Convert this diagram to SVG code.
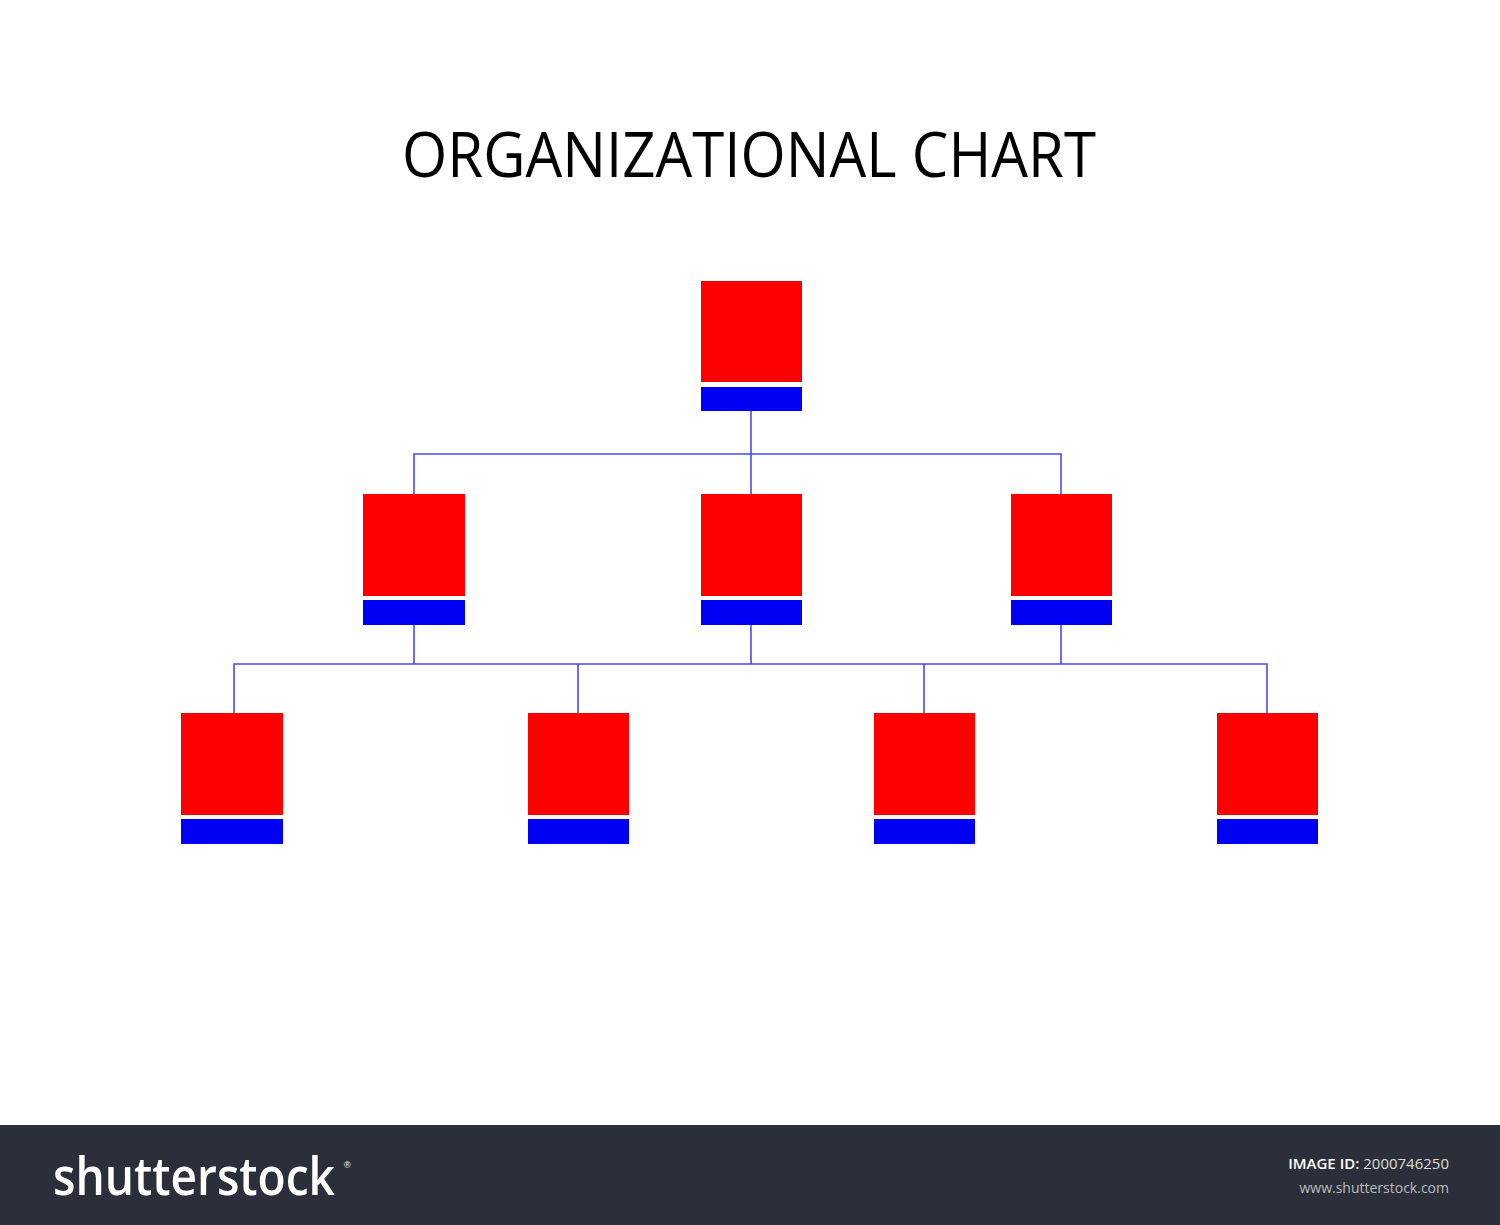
<svg xmlns="http://www.w3.org/2000/svg" width="1500" height="1225" viewBox="0 0 1500 1225">
<style>
.red{fill:#ff0000}
.blue{fill:#0000f5}
.conn{stroke:#4a4af0;stroke-width:1.6;fill:none}
.title{font-family:"Open Sans","Liberation Sans",sans-serif;font-size:62px;fill:#000}
</style>
<rect x="0" y="0" width="1500" height="1225" fill="#ffffff"/>
<text class="title" x="749" y="177" text-anchor="middle" textLength="694" lengthAdjust="spacingAndGlyphs">ORGANIZATIONAL CHART</text>
<g id="connectors">
<path class="conn" d="M751 411V494M414 494V454H1061V494"/>
<path class="conn" d="M414 625V664M751 625V664M1061 625V664M234 713V664H1267V713M578 664V713M924 664V713"/>
</g>
<g id="node-top"><rect class="red" x="701" y="281" width="101" height="101"/><rect class="blue" x="701" y="387" width="101" height="24"/></g>
<g id="node-m1"><rect class="red" x="363" y="494" width="102" height="102"/><rect class="blue" x="363" y="600" width="102" height="25"/></g>
<g id="node-m2"><rect class="red" x="701" y="494" width="101" height="102"/><rect class="blue" x="701" y="600" width="101" height="25"/></g>
<g id="node-m3"><rect class="red" x="1011" y="494" width="101" height="102"/><rect class="blue" x="1011" y="600" width="101" height="25"/></g>
<g id="node-b1"><rect class="red" x="181" y="713" width="102" height="102"/><rect class="blue" x="181" y="819" width="102" height="25"/></g>
<g id="node-b2"><rect class="red" x="528" y="713" width="101" height="102"/><rect class="blue" x="528" y="819" width="101" height="25"/></g>
<g id="node-b3"><rect class="red" x="874" y="713" width="101" height="102"/><rect class="blue" x="874" y="819" width="101" height="25"/></g>
<g id="node-b4"><rect class="red" x="1217" y="713" width="101" height="102"/><rect class="blue" x="1217" y="819" width="101" height="25"/></g>
<g id="footer">
<rect x="0" y="1125" width="1500" height="100" fill="#2a2f3a"/>
<text x="53" y="1195" font-family="Open Sans, Liberation Sans, sans-serif" font-weight="600" font-size="52" fill="#ffffff" textLength="282" lengthAdjust="spacingAndGlyphs">shutterstock</text>
<text x="344" y="1168" font-family="Liberation Sans, sans-serif" font-size="9" fill="#ffffff">®</text>
<text x="1449" y="1169" text-anchor="end" font-family="Open Sans, Liberation Sans, sans-serif" font-size="15" fill="#dddddd"><tspan font-weight="600" fill="#ffffff">IMAGE ID:</tspan> 2000746250</text>
<text x="1449" y="1193" text-anchor="end" font-family="Open Sans, Liberation Sans, sans-serif" font-size="14" fill="#bbbbbb">www.shutterstock.com</text>
</g>
</svg>
